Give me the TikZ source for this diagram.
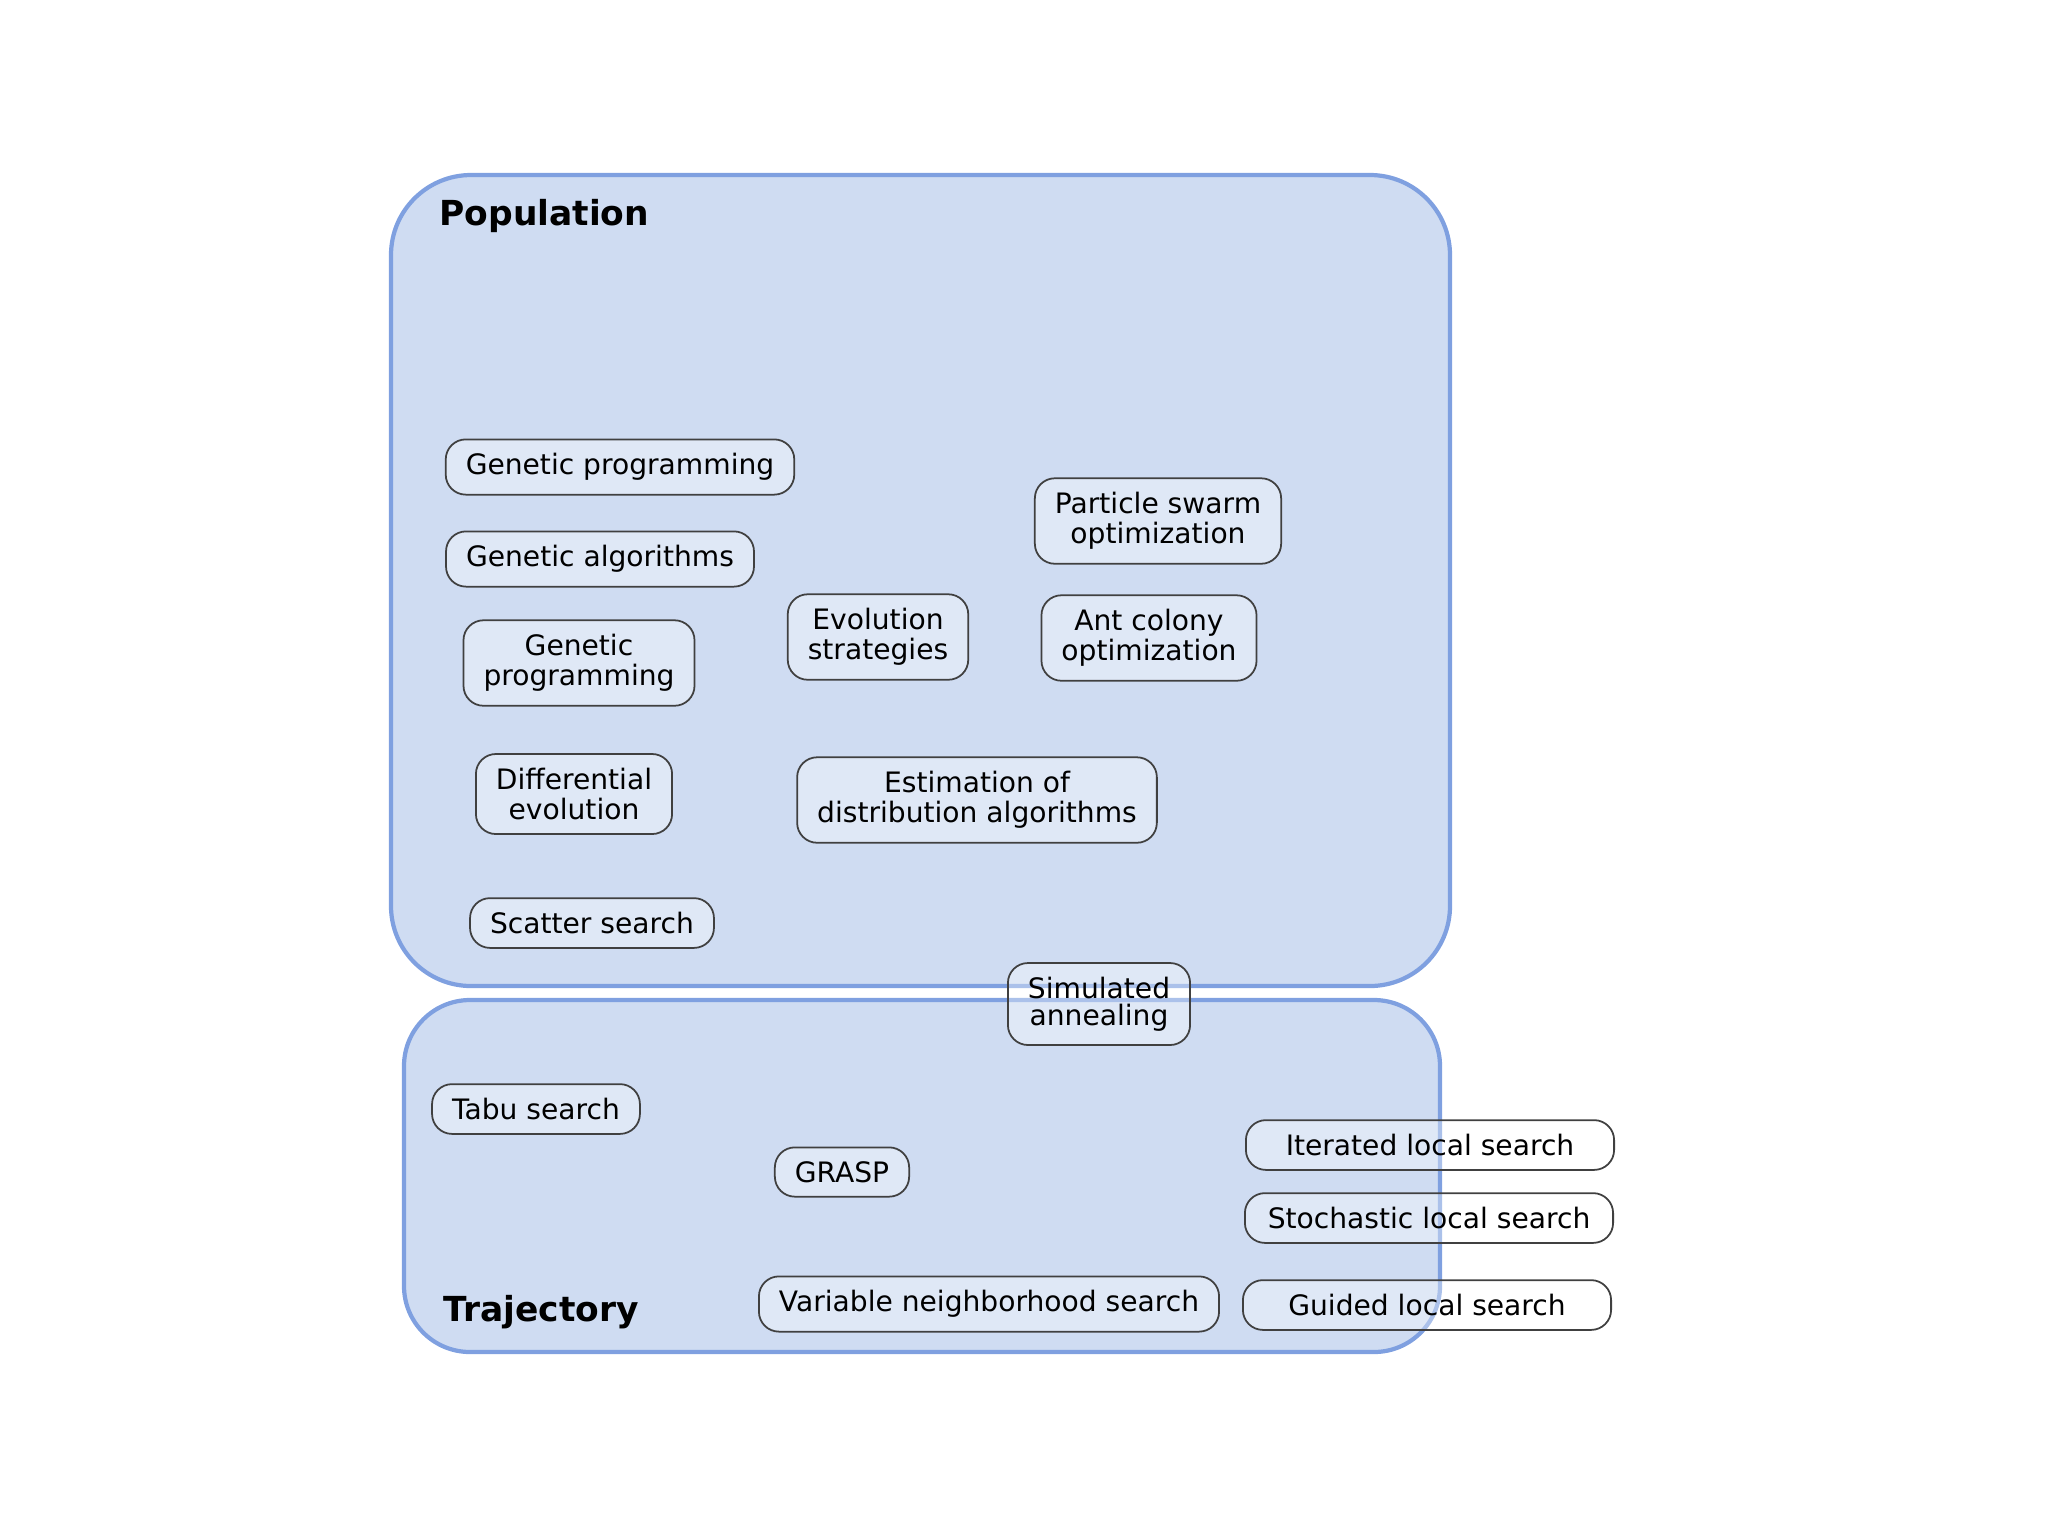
\documentclass[tikz,border=0pt]{standalone}
\usepackage{fontspec}
\setmainfont{DejaVu Sans}
\begin{document}
\begin{tikzpicture}[x=0.01cm,y=-0.01cm,
  region/.style={draw=blueB,fill=blueA,line width=1.2pt},
  m/.style={draw=black!75,fill=white,fill opacity=0.35,text opacity=1,rounded corners=0.2cm,
    align=center,font=\fontsize{8}{8.6}\selectfont,inner xsep=0.2cm,inner ysep=0.14cm,line width=0.5pt},
  ttl/.style={anchor=west,font=\fontsize{9.8}{11}\selectfont\bfseries}]
\definecolor{blueA}{HTML}{CFDCF2}
\definecolor{blueB}{HTML}{7FA0E0}
\useasboundingbox (0,0) rectangle (2048,1535);
\draw[region,rounded corners=0.8cm] (391,175) rectangle (1450,986);
\draw[region,rounded corners=0.66cm] (404,1000) rectangle (1440,1352);
\node[ttl] (pop) at (427,216) {Population};
\node[ttl] (tra) at (431,1312) {Trajectory};
\node[m] (gp1) at (620,467) {Genetic programming};
\node[m] (ga) at (600,559) {Genetic algorithms};
\node[m] (gp2) at (579,663) {Genetic\\programming};
\node[m] (de) at (574,794) {Differential\\evolution};
\node[m] (ss) at (592,923) {Scatter search};
\node[m] (es) at (878,637) {Evolution\\strategies};
\node[m] (pso) at (1158,521) {Particle swarm\\optimization};
\node[m] (aco) at (1149,638) {Ant colony\\optimization};
\node[m] (eda) at (977,800) {Estimation of\\distribution algorithms};
\node[m,font=\fontsize{8}{7.6}\selectfont] (sa) at (1099,1004) {Simulated\\annealing};
\node[m] (tabu) at (536,1109) {Tabu search};
\node[m] (grasp) at (842,1172) {GRASP};
\node[m] (vns) at (989,1304) {Variable neighborhood search};
\node[m,minimum width=3.68cm] (ils) at (1430,1145) {Iterated local search};
\node[m,minimum width=3.68cm] (sls) at (1429,1218) {Stochastic local search};
\node[m,minimum width=3.68cm] (gls) at (1427,1305) {Guided local search};
\end{tikzpicture}
\end{document}
